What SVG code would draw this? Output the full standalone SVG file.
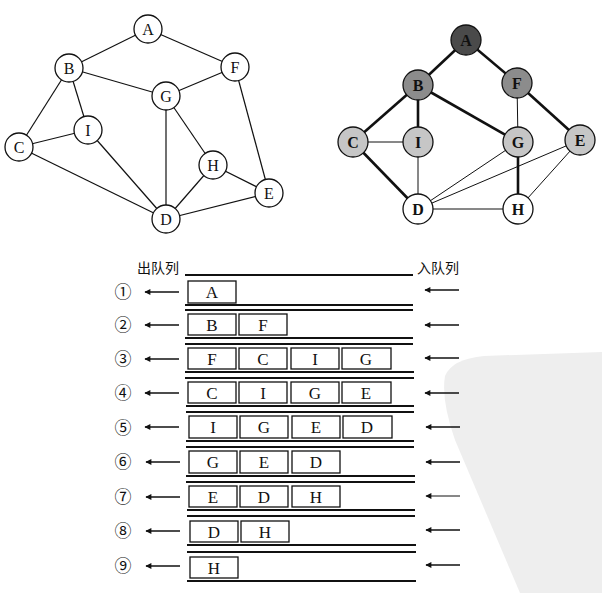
<svg xmlns="http://www.w3.org/2000/svg" width="602" height="593" viewBox="0 0 602 593">
<style>
.n circle{stroke:#111;stroke-width:1.3;fill:#fff}
.lt{font-family:"Liberation Serif","DejaVu Serif",serif;font-size:16px;fill:#111;text-anchor:middle}
.rt{font-family:"Liberation Serif","DejaVu Serif",serif;font-size:16px;font-weight:bold;fill:#111;text-anchor:middle}
.e line{stroke:#111;stroke-width:1.2}
.thick{stroke-width:2.6 !important}
.thin{stroke-width:1 !important}
.q{stroke:#111;stroke-width:2;fill:none}
.box{fill:#fff;stroke:#111;stroke-width:1.3}
.bt{font-family:"Liberation Serif","DejaVu Serif",serif;font-size:17px;fill:#111;text-anchor:middle}
.num{font-family:"Noto Sans CJK SC","DejaVu Sans",sans-serif;font-size:17px;fill:#111;text-anchor:middle}
.cj{font-family:"Noto Sans CJK SC","Noto Sans CJK JP",serif;font-size:14px;fill:#111}
.ar{stroke:#111;stroke-width:1.4;marker-end:url(#ah)}
</style>
<defs>
<marker id="ah" viewBox="0 0 10 10" refX="9" refY="5" markerWidth="8" markerHeight="6" markerUnits="userSpaceOnUse" orient="auto"><path d="M0,0 L10,5 L0,10 Z" fill="#111"/></marker>
</defs>
<rect width="602" height="593" fill="#fff"/>
<path d="M602 352 L484 356 Q452 359 445 376 Q441 400 455 440 L520 593 L602 593 Z" fill="#eeeeee"/>

<!-- Left graph connectors -->
<g id="left-edges" class="e">
<line x1="148" y1="29" x2="69" y2="68"/>
<line x1="148" y1="29" x2="235" y2="67"/>
<line x1="69" y1="68" x2="166" y2="96"/>
<line x1="166" y1="96" x2="235" y2="67"/>
<line x1="69" y1="68" x2="19" y2="147"/>
<line x1="69" y1="68" x2="88" y2="130"/>
<line x1="19" y1="147" x2="88" y2="130"/>
<line x1="19" y1="147" x2="166" y2="219"/>
<line x1="88" y1="130" x2="166" y2="219"/>
<line x1="166" y1="96" x2="166" y2="219"/>
<line x1="166" y1="96" x2="213" y2="165"/>
<line x1="213" y1="165" x2="166" y2="219"/>
<line x1="213" y1="165" x2="269" y2="193"/>
<line x1="235" y1="67" x2="269" y2="193"/>
<line x1="166" y1="219" x2="269" y2="193"/>
</g>
<g id="L-A" class="n"><circle cx="148" cy="29" r="14"/><text class="lt" x="148" y="34.5">A</text></g>
<g id="L-B" class="n"><circle cx="69" cy="68" r="14"/><text class="lt" x="69" y="73.5">B</text></g>
<g id="L-F" class="n"><circle cx="235" cy="67" r="14"/><text class="lt" x="235" y="72.5">F</text></g>
<g id="L-G" class="n"><circle cx="166" cy="96" r="14"/><text class="lt" x="166" y="101.5">G</text></g>
<g id="L-I" class="n"><circle cx="88" cy="130" r="14"/><text class="lt" x="88" y="135.5">I</text></g>
<g id="L-C" class="n"><circle cx="19" cy="147" r="14"/><text class="lt" x="19" y="152.5">C</text></g>
<g id="L-H" class="n"><circle cx="213" cy="165" r="14"/><text class="lt" x="213" y="170.5">H</text></g>
<g id="L-E" class="n"><circle cx="269" cy="193" r="14"/><text class="lt" x="269" y="198.5">E</text></g>
<g id="L-D" class="n"><circle cx="166" cy="219" r="14"/><text class="lt" x="166" y="224.5">D</text></g>

<!-- Right graph connectors -->
<g id="right-edges" class="e">
<line class="thick" x1="466" y1="40" x2="418" y2="85"/>
<line class="thick" x1="466" y1="40" x2="517" y2="83"/>
<line class="thick" x1="418" y1="85" x2="353" y2="142"/>
<line class="thick" x1="418" y1="85" x2="418" y2="142"/>
<line class="thick" x1="418" y1="85" x2="518" y2="142"/>
<line class="thick" x1="517" y1="83" x2="580" y2="140"/>
<line class="thick" x1="353" y1="142" x2="418" y2="209"/>
<line class="thick" x1="518" y1="142" x2="518" y2="209"/>
<line class="thin" x1="517" y1="83" x2="518" y2="142"/>
<line class="thin" x1="353" y1="142" x2="418" y2="142"/>
<line class="thin" x1="418" y1="142" x2="418" y2="209"/>
<line class="thin" x1="518" y1="142" x2="418" y2="209"/>
<line class="thin" x1="580" y1="140" x2="418" y2="209"/>
<line class="thin" x1="580" y1="140" x2="518" y2="209"/>
<line class="thin" x1="418" y1="209" x2="518" y2="209"/>
</g>
<g id="R-A" class="n"><circle cx="466" cy="40" r="15" style="fill:#4a4a4a"/><text class="rt" x="466" y="45.5">A</text></g>
<g id="R-B" class="n"><circle cx="418" cy="85" r="15" style="fill:#8c8c8c"/><text class="rt" x="418" y="90.5">B</text></g>
<g id="R-F" class="n"><circle cx="517" cy="83" r="15" style="fill:#8c8c8c"/><text class="rt" x="517" y="88.5">F</text></g>
<g id="R-C" class="n"><circle cx="353" cy="142" r="15" style="fill:#c6c6c6"/><text class="rt" x="353" y="147.5">C</text></g>
<g id="R-I" class="n"><circle cx="418" cy="142" r="15" style="fill:#c6c6c6"/><text class="rt" x="418" y="147.5">I</text></g>
<g id="R-G" class="n"><circle cx="518" cy="142" r="15" style="fill:#c6c6c6"/><text class="rt" x="518" y="147.5">G</text></g>
<g id="R-E" class="n"><circle cx="580" cy="140" r="15" style="fill:#c6c6c6"/><text class="rt" x="580" y="145.5">E</text></g>
<g id="R-D" class="n"><circle cx="418" cy="209" r="15"/><text class="rt" x="418" y="214.5">D</text></g>
<g id="R-H" class="n"><circle cx="518" cy="209" r="15"/><text class="rt" x="518" y="214.5">H</text></g>

<!-- Queue -->
<g id="queue-labels">
<text class="cj" x="137" y="273">出队列</text>
<text class="cj" x="417" y="273">入队列</text>
</g>
<g id="queue-lines" class="q">
<line x1="185" y1="275" x2="413" y2="275"/>
<line x1="185" y1="305" x2="413" y2="305"/>
<line x1="185" y1="310" x2="413" y2="310"/>
<line x1="185" y1="338" x2="413" y2="338"/>
<line x1="185" y1="344" x2="413" y2="344"/>
<line x1="185" y1="372" x2="414" y2="372"/>
<line x1="185" y1="378" x2="414" y2="378"/>
<line x1="186" y1="406" x2="414" y2="406"/>
<line x1="186" y1="412" x2="414" y2="412"/>
<line x1="186" y1="441" x2="414" y2="441"/>
<line x1="186" y1="447" x2="414" y2="447"/>
<line x1="186" y1="476" x2="415" y2="476"/>
<line x1="186" y1="482" x2="415" y2="482"/>
<line x1="187" y1="510" x2="415" y2="510"/>
<line x1="187" y1="516" x2="415" y2="516"/>
<line x1="187" y1="545" x2="416" y2="545"/>
<line x1="187" y1="552" x2="416" y2="552"/>
<line x1="187" y1="581" x2="416" y2="581"/>
</g>

<g id="row1">
<text class="num" x="123" y="297.5">①</text>
<line class="ar" x1="179" y1="292" x2="145" y2="292"/>
<line class="ar" x1="459" y1="290" x2="425" y2="290"/>
<rect class="box" x="188" y="281" width="48" height="22"/><text class="bt" x="212" y="298">A</text>
</g>
<g id="row2">
<text class="num" x="123" y="331">②</text>
<line class="ar" x1="179" y1="325" x2="145" y2="325"/>
<line class="ar" x1="459" y1="325" x2="425" y2="325"/>
<rect class="box" x="188" y="314" width="48" height="21"/><text class="bt" x="212" y="330.5">B</text>
<rect class="box" x="239" y="314" width="48" height="21"/><text class="bt" x="263" y="330.5">F</text>
</g>
<g id="row3">
<text class="num" x="123" y="365">③</text>
<line class="ar" x1="179" y1="359" x2="145" y2="359"/>
<line class="ar" x1="459" y1="358" x2="425" y2="358"/>
<rect class="box" x="188" y="348" width="48" height="21"/><text class="bt" x="212" y="364.5">F</text>
<rect class="box" x="239" y="348" width="48" height="21"/><text class="bt" x="263" y="364.5">C</text>
<rect class="box" x="291" y="348" width="48" height="21"/><text class="bt" x="315" y="364.5">I</text>
<rect class="box" x="342" y="348" width="49" height="21"/><text class="bt" x="366" y="364.5">G</text>
</g>
<g id="row4">
<text class="num" x="123" y="399">④</text>
<line class="ar" x1="179" y1="393" x2="145" y2="393"/>
<line class="ar" x1="459" y1="393" x2="425" y2="393"/>
<rect class="box" x="188" y="382" width="48" height="21"/><text class="bt" x="212" y="398.5">C</text>
<rect class="box" x="239" y="382" width="48" height="21"/><text class="bt" x="263" y="398.5">I</text>
<rect class="box" x="291" y="382" width="48" height="21"/><text class="bt" x="315" y="398.5">G</text>
<rect class="box" x="342" y="382" width="49" height="21"/><text class="bt" x="366" y="398.5">E</text>
</g>
<g id="row5">
<text class="num" x="123" y="433.5">⑤</text>
<line class="ar" x1="179" y1="427" x2="145" y2="427"/>
<line class="ar" x1="460" y1="427" x2="426" y2="427"/>
<rect class="box" x="189" y="416" width="48" height="22"/><text class="bt" x="213" y="433">I</text>
<rect class="box" x="240" y="416" width="48" height="22"/><text class="bt" x="264" y="433">G</text>
<rect class="box" x="292" y="416" width="48" height="22"/><text class="bt" x="316" y="433">E</text>
<rect class="box" x="343" y="416" width="49" height="22"/><text class="bt" x="367" y="433">D</text>
</g>
<g id="row6">
<text class="num" x="123" y="468">⑥</text>
<line class="ar" x1="180" y1="462" x2="146" y2="462"/>
<line class="ar" x1="460" y1="462" x2="426" y2="462"/>
<rect class="box" x="189" y="451" width="48" height="22"/><text class="bt" x="213" y="468">G</text>
<rect class="box" x="240" y="451" width="48" height="22"/><text class="bt" x="264" y="468">E</text>
<rect class="box" x="292" y="451" width="48" height="22"/><text class="bt" x="316" y="468">D</text>
</g>
<g id="row7">
<text class="num" x="123" y="502.5">⑦</text>
<line class="ar" x1="180" y1="497" x2="146" y2="497"/>
<line class="ar thin" x1="460" y1="496" x2="426" y2="496"/>
<rect class="box" x="189" y="486" width="48" height="21"/><text class="bt" x="213" y="502.5">E</text>
<rect class="box" x="240" y="486" width="48" height="21"/><text class="bt" x="264" y="502.5">D</text>
<rect class="box" x="292" y="486" width="48" height="21"/><text class="bt" x="316" y="502.5">H</text>
</g>
<g id="row8">
<text class="num" x="123" y="537">⑧</text>
<line class="ar" x1="180" y1="531" x2="146" y2="531"/>
<line class="ar" x1="460" y1="530" x2="426" y2="530"/>
<rect class="box" x="190" y="521" width="48" height="21"/><text class="bt" x="214" y="537.5">D</text>
<rect class="box" x="241" y="521" width="48" height="21"/><text class="bt" x="265" y="537.5">H</text>
</g>
<g id="row9">
<text class="num" x="123" y="572">⑨</text>
<line class="ar" x1="180" y1="566" x2="146" y2="566"/>
<line class="ar" x1="460" y1="565" x2="426" y2="565"/>
<rect class="box" x="190" y="557" width="48" height="21"/><text class="bt" x="214" y="573.5">H</text>
</g>
</svg>
